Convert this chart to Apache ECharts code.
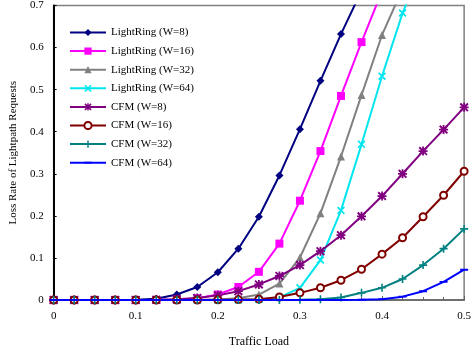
<!DOCTYPE html>
<html>
<head>
<meta charset="utf-8">
<script src="https://cdn.jsdelivr.net/npm/echarts@6/dist/echarts.min.js"></script>
<style>html,body{margin:0;padding:0;background:#fff}#c{width:474px;height:353px}</style>
</head>
<body>
<div id="c"></div>
<script>
// Traffic load values (x)
var loads = [0,0.025,0.05,0.075,0.1,0.125,0.15,0.175,0.2,0.225,0.25,0.275,0.3,0.325,0.35,0.375,0.4,0.425,0.45,0.475,0.5];
var seriesNames = ['LightRing (W=8)','LightRing (W=16)','LightRing (W=32)','LightRing (W=64)','CFM (W=8)','CFM (W=16)','CFM (W=32)','CFM (W=64)'];
var lightRing8  = [0,0,0,0,0.0005,0.003,0.013,0.031,0.066,0.122,0.198,0.296,0.406,0.521,0.632,0.735];
var lightRing16 = [0,0,0,0,0,0,0.001,0.004,0.013,0.031,0.067,0.134,0.236,0.354,0.485,0.613,0.734];
var lightRing32 = [0,0,0,0,0,0,0,0,0.001,0.004,0.013,0.039,0.101,0.206,0.341,0.487,0.63,0.74];
var lightRing64 = [0,0,0,0,0,0,0,0,0,0,0.001,0.006,0.029,0.095,0.213,0.37,0.532,0.682,0.80];
var cfm8  = [0,0,0,0,0,0.0005,0.002,0.005,0.011,0.021,0.037,0.057,0.083,0.116,0.154,0.199,0.247,0.300,0.354,0.405,0.458];
var cfm16 = [0,0,0,0,0,0,0,0,0.0005,0.001,0.002,0.007,0.017,0.029,0.047,0.073,0.109,0.148,0.198,0.249,0.306];
var cfm32 = [0,0,0,0,0,0,0,0,0,0,0,0,0.0005,0.002,0.006,0.017,0.029,0.05,0.083,0.122,0.169];
var cfm64 = [0,0,0,0,0,0,0,0,0,0,0,0,0,0,0,0.0005,0.002,0.008,0.021,0.043,0.072];
var xTicks = [0,0.1,0.2,0.3,0.4,0.5];
var yTicks = [0,0.1,0.2,0.3,0.4,0.5,0.6,0.7];

var allValues = [lightRing8, lightRing16, lightRing32, lightRing64, cfm8, cfm16, cfm32, cfm64];
var colors = ['#000080','#FF00FF','#808080','#00E5EE','#800080','#800000','#008080','#0000FF'];
var corners = 'M0,0L0.01,0L0.01,0.01ZM9.99,9.99L10,9.99L10,10Z';
var xShape = 'path://M0,1.5L1.5,0L5,3.5L8.5,0L10,1.5L6.5,5L10,8.5L8.5,10L5,6.5L1.5,10L0,8.5L3.5,5Z';
var starShape = 'path://M0,1.5L1.5,0L4,2.5L4,0L6,0L6,2.5L8.5,0L10,1.5L7.5,4L10,4L10,6L7.5,6L10,8.5L8.5,10L6,7.5L6,10L4,10L4,7.5L1.5,10L0,8.5L2.5,6L0,6L0,4L2.5,4Z';
var plusShape = 'path://M4,0H6V4H10V6H6V10H4V6H0V4H4Z';
var dashShape = 'path://' + corners + 'M0,3.8H10V6.2H0Z';
var symbols = ['diamond','rect','triangle',xShape,starShape,'circle',plusShape,dashShape];
var sizes = [8,8,8,8,9,7,8,8];

var series = allValues.map(function(vals, i){
  return {
    name: seriesNames[i],
    type: 'line',
    clip: true,
    data: vals.map(function(v, j){ return [loads[j], v]; }),
    symbol: symbols[i],
    symbolSize: sizes[i],
    showSymbol: true,
    lineStyle: {color: colors[i], width: 2},
    itemStyle: i === 5 ? {color: '#fff', borderColor: colors[i], borderWidth: 2}
                       : {color: colors[i], borderColor: colors[i], borderWidth: 0},
    emphasis: {disabled: true},
    animation: false
  };
});

var font = 'Liberation Serif';
var chart = echarts.init(document.getElementById('c'), null, {renderer: 'canvas'});
chart.setOption({
  backgroundColor: '#fff',
  animation: false,
  color: colors,
  grid: {left: 48, right: 9, top: 5, bottom: 49, show: true, borderColor: '#808080', borderWidth: 1.5, backgroundColor: 'transparent'},
  legend: {
    orient: 'vertical', left: 64, top: 22,
    itemWidth: 36, itemHeight: 9, itemGap: 7.6,
    textStyle: {fontFamily: font, fontSize: 11, color: '#000', lineHeight: 9},
    data: seriesNames
  },
  xAxis: {
    type: 'value', min: xTicks[0], max: xTicks[xTicks.length-1], interval: 0.1,
    name: 'Traffic Load', nameLocation: 'middle', nameGap: 36,
    nameTextStyle: {fontFamily: font, fontSize: 12, color: '#000'},
    axisLine: {show: true, lineStyle: {color: '#606060', width: 1.5}},
    axisTick: {show: true, inside: true, length: 4, lineStyle: {color: '#606060'}},
    minorTick: {show: true, splitNumber: 4, length: 3, lineStyle: {color: '#606060'}},
    splitLine: {show: false},
    axisLabel: {fontFamily: font, fontSize: 11, color: '#000', margin: 11}
  },
  yAxis: {
    type: 'value', min: yTicks[0], max: yTicks[yTicks.length-1], interval: 0.1,
    name: 'Loss Rate of Lightpath Requests', nameLocation: 'middle', nameGap: 33,
    nameTextStyle: {fontFamily: font, fontSize: 11, color: '#000'},
    axisLine: {show: true, lineStyle: {color: '#000', width: 2}},
    axisTick: {show: true, inside: true, length: 3, lineStyle: {color: '#000'}},
    splitLine: {show: false},
    axisLabel: {fontFamily: font, fontSize: 11, color: '#000', margin: 10,
      formatter: function(v){ return v === 0 ? '0' : v.toFixed(1); }}
  },
  series: series
});
</script>
</body>
</html>
